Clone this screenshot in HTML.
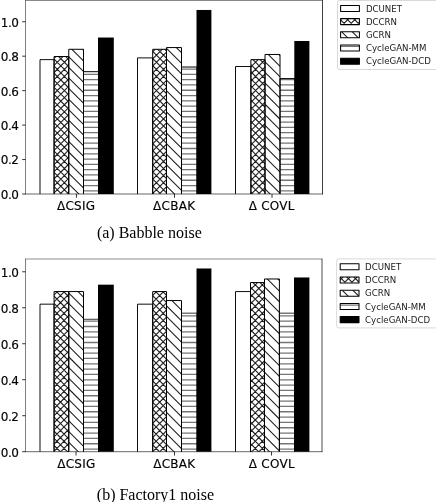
<!DOCTYPE html>
<html lang="en"><head><meta charset="utf-8"><title>Bar charts</title>
<style>html,body{margin:0;padding:0;background:#fff}body{width:436px;height:502px;overflow:hidden}svg{display:block}.t{font-family:"DejaVu Sans","Liberation Sans",sans-serif;fill:#000}.t{stroke:#000;stroke-width:0.15px}.lg{stroke:none;fill:#1a1a1a}.yl{letter-spacing:-0.55px}.xl{letter-spacing:0.25px}.c{font-family:"Liberation Serif",serif;fill:#000}</style></head><body>
<svg width="436" height="502" viewBox="0 0 436 502">
<rect width="436" height="502" fill="#fff"/>
<defs>
<clipPath id="c0_1"><rect x="54.07" y="56.53" width="14.68" height="137.47"/><rect x="152.7" y="49.29" width="13.8" height="144.71"/><rect x="250.9" y="59.63" width="14.1" height="134.37"/></clipPath>
<clipPath id="l0_1"><rect x="340.6" y="18.6" width="18.8" height="6"/></clipPath>
<clipPath id="c0_2"><rect x="68.75" y="49.29" width="14.75" height="144.71"/><rect x="166.5" y="47.57" width="15" height="146.43"/><rect x="265" y="54.46" width="15" height="139.54"/></clipPath>
<clipPath id="l0_2"><rect x="340.6" y="31.8" width="18.8" height="6"/></clipPath>
<clipPath id="c0_3"><rect x="83.5" y="71.69" width="15" height="122.31"/><rect x="181.5" y="67.03" width="15.5" height="126.97"/><rect x="280" y="78.58" width="14.8" height="115.42"/></clipPath>
<clipPath id="l0_3"><rect x="340.6" y="45" width="18.8" height="6"/></clipPath>
</defs>
<path clip-path="url(#c0_1)" d="M36 -284.96L312 -8.84M36 -277.87L312 -1.76M36 -270.79L312 5.33M36 -263.7L312 12.41M36 -256.62L312 19.5M36 -249.53L312 26.58M36 -242.45L312 33.67M36 -235.36L312 40.75M36 -228.28L312 47.84M36 -221.19L312 54.92M36 -214.11L312 62.01M36 -207.02L312 69.09M36 -199.94L312 76.18M36 -192.85L312 83.26M36 -185.77L312 90.35M36 -178.68L312 97.43M36 -171.6L312 104.52M36 -164.51L312 111.6M36 -157.43L312 118.69M36 -150.34L312 125.77M36 -143.26L312 132.86M36 -136.17L312 139.94M36 -129.09L312 147.03M36 -122L312 154.11M36 -114.92L312 161.2M36 -107.83L312 168.28M36 -100.75L312 175.37M36 -93.66L312 182.45M36 -86.58L312 189.54M36 -79.49L312 196.62M36 -72.41L312 203.71M36 -65.32L312 210.79M36 -58.24L312 217.88M36 -51.15L312 224.96M36 -44.07L312 232.05M36 -36.98L312 239.13M36 -29.9L312 246.22M36 -22.81L312 253.3M36 -15.73L312 260.39M36 -8.64L312 267.47M36 -1.56L312 274.56M36 5.53L312 281.64M36 12.61L312 288.73M36 19.7L312 295.81M36 26.78L312 302.9M36 33.87L312 309.98M36 40.95L312 317.07M36 48.04L312 324.15M36 55.12L312 331.24M36 62.21L312 338.32M36 69.29L312 345.41M36 76.38L312 352.49M36 83.46L312 359.58M36 90.55L312 366.66M36 97.63L312 373.75M36 104.72L312 380.83M36 111.8L312 387.92M36 118.89L312 395M36 125.97L312 402.09M36 133.06L312 409.17M36 140.14L312 416.26M36 147.23L312 423.34M36 154.31L312 430.43M36 161.4L312 437.51M36 168.48L312 444.6M36 175.57L312 451.68M36 182.65L312 458.77M36 189.74L312 465.85M36 196.82L312 472.94M36 203.91L312 480.02M36 -8.58L312 -284.69M36 -1.49L312 -277.61M36 5.59L312 -270.52M36 12.68L312 -263.44M36 19.76L312 -256.35M36 26.85L312 -249.27M36 33.93L312 -242.18M36 41.02L312 -235.1M36 48.1L312 -228.01M36 55.19L312 -220.93M36 62.27L312 -213.84M36 69.36L312 -206.76M36 76.44L312 -199.67M36 83.53L312 -192.59M36 90.61L312 -185.5M36 97.7L312 -178.42M36 104.78L312 -171.33M36 111.87L312 -164.25M36 118.95L312 -157.16M36 126.04L312 -150.08M36 133.12L312 -142.99M36 140.21L312 -135.91M36 147.29L312 -128.82M36 154.38L312 -121.74M36 161.46L312 -114.65M36 168.55L312 -107.57M36 175.63L312 -100.48M36 182.72L312 -93.4M36 189.8L312 -86.31M36 196.89L312 -79.23M36 203.97L312 -72.14M36 211.06L312 -65.06M36 218.14L312 -57.97M36 225.23L312 -50.89M36 232.31L312 -43.8M36 239.4L312 -36.72M36 246.48L312 -29.63M36 253.57L312 -22.55M36 260.65L312 -15.46M36 267.74L312 -8.38M36 274.82L312 -1.29M36 281.91L312 5.79M36 288.99L312 12.88M36 296.08L312 19.96M36 303.16L312 27.05M36 310.25L312 34.13M36 317.33L312 41.22M36 324.42L312 48.3M36 331.5L312 55.39M36 338.59L312 62.47M36 345.67L312 69.56M36 352.76L312 76.64M36 359.84L312 83.73M36 366.93L312 90.81M36 374.01L312 97.9M36 381.1L312 104.98M36 388.18L312 112.07M36 395.27L312 119.15M36 402.35L312 126.24M36 409.44L312 133.32M36 416.52L312 140.41M36 423.61L312 147.49M36 430.69L312 154.58M36 437.78L312 161.66M36 444.86L312 168.75M36 451.95L312 175.83M36 459.03L312 182.92M36 466.12L312 190M36 473.2L312 197.09M36 480.29L312 204.17" fill="none" stroke="#202020" stroke-width="1.12"/>
<path clip-path="url(#c0_2)" d="M36 -293.61L312 -18.44M36 -283.02L312 -7.85M36 -272.43L312 2.74M36 -261.84L312 13.34M36 -251.24L312 23.93M36 -240.65L312 34.52M36 -230.06L312 45.11M36 -219.47L312 55.7M36 -208.88L312 66.3M36 -198.28L312 76.89M36 -187.69L312 87.48M36 -177.1L312 98.07M36 -166.51L312 108.66M36 -155.92L312 119.26M36 -145.32L312 129.85M36 -134.73L312 140.44M36 -124.14L312 151.03M36 -113.55L312 161.62M36 -102.96L312 172.22M36 -92.36L312 182.81M36 -81.77L312 193.4M36 -71.18L312 203.99M36 -60.59L312 214.58M36 -50L312 225.18M36 -39.4L312 235.77M36 -28.81L312 246.36M36 -18.22L312 256.95M36 -7.63L312 267.54M36 2.96L312 278.14M36 13.56L312 288.73M36 24.15L312 299.32M36 34.74L312 309.91M36 45.33L312 320.5M36 55.92L312 331.1M36 66.52L312 341.69M36 77.11L312 352.28M36 87.7L312 362.87M36 98.29L312 373.46M36 108.88L312 384.06M36 119.48L312 394.65M36 130.07L312 405.24M36 140.66L312 415.83M36 151.25L312 426.42M36 161.84L312 437.02M36 172.44L312 447.61M36 183.03L312 458.2M36 193.62L312 468.79M36 204.21L312 479.38M36 214.8L312 489.98" fill="none" stroke="#202020" stroke-width="1.08"/>
<path clip-path="url(#c0_3)" d="M36 -5.03H312M36 0.27H312M36 5.56H312M36 10.85H312M36 16.15H312M36 21.44H312M36 26.74H312M36 32.03H312M36 37.32H312M36 42.62H312M36 47.91H312M36 53.21H312M36 58.5H312M36 63.79H312M36 69.09H312M36 74.38H312M36 79.68H312M36 84.97H312M36 90.26H312M36 95.56H312M36 100.85H312M36 106.15H312M36 111.44H312M36 116.73H312M36 122.03H312M36 127.32H312M36 132.62H312M36 137.91H312M36 143.2H312M36 148.5H312M36 153.79H312M36 159.09H312M36 164.38H312M36 169.67H312M36 174.97H312M36 180.26H312M36 185.56H312M36 190.85H312M36 196.14H312" fill="none" stroke="#757575" stroke-width="1.3"/>
<path clip-path="url(#l0_1)" d="M338 -18.26L362 5.75M338 -11.17L362 12.84M338 -4.09L362 19.92M338 3L362 27.01M338 10.08L362 34.09M338 17.17L362 41.18M338 24.25L362 48.26M338 31.34L362 55.35M338 38.42L362 62.43M338 45.51L362 69.52M338 52.59L362 76.6M338 59.68L362 83.69M338 8.12L362 -15.89M338 15.21L362 -8.8M338 22.29L362 -1.72M338 29.38L362 5.37M338 36.46L362 12.45M338 43.55L362 19.54M338 50.63L362 26.62M338 57.72L362 33.71M338 64.8L362 40.79M338 71.89L362 47.88M338 78.97L362 54.96M338 86.06L362 62.05" fill="none" stroke="#202020" stroke-width="1.12"/>
<path clip-path="url(#l0_2)" d="M338 -24.79L362 -0.86M338 -14.2L362 9.73M338 -3.61L362 20.32M338 6.98L362 30.91M338 17.58L362 41.5M338 28.17L362 52.1M338 38.76L362 62.69M338 49.35L362 73.28M338 59.94L362 83.87M338 70.54L362 94.46" fill="none" stroke="#202020" stroke-width="1.08"/>
<path clip-path="url(#l0_3)" d="M338 14.55H362M338 19.84H362M338 25.14H362M338 30.43H362M338 35.72H362M338 41.02H362M338 46.31H362M338 51.61H362M338 56.9H362" fill="none" stroke="#757575" stroke-width="1.3"/>
<path d="M40 194V59.63H54.07V194" fill="none" stroke="#000" stroke-width="0.95"/>
<path d="M137.5 194V57.9H152.7V194" fill="none" stroke="#000" stroke-width="0.95"/>
<path d="M235.5 194V66.52H250.9V194" fill="none" stroke="#000" stroke-width="0.95"/>
<path d="M54.07 194V56.53H68.75V194" fill="none" stroke="#000" stroke-width="1"/>
<path d="M152.7 194V49.29H166.5V194" fill="none" stroke="#000" stroke-width="1"/>
<path d="M250.9 194V59.63H265V194" fill="none" stroke="#000" stroke-width="1"/>
<path d="M68.75 194V49.29H83.5V194" fill="none" stroke="#000" stroke-width="1"/>
<path d="M166.5 194V47.57H181.5V194" fill="none" stroke="#000" stroke-width="1"/>
<path d="M265 194V54.46H280V194" fill="none" stroke="#000" stroke-width="1"/>
<path d="M83.5 194V71.69H98.5V194" fill="none" stroke="#000" stroke-width="1"/>
<path d="M181.5 194V67.03H197V194" fill="none" stroke="#000" stroke-width="1"/>
<path d="M280 194V78.58H294.8V194" fill="none" stroke="#000" stroke-width="1"/>
<rect x="98" y="37.53" width="15.8" height="156.47" fill="#000"/>
<rect x="196.5" y="9.97" width="14.9" height="184.03" fill="#000"/>
<rect x="294.3" y="40.98" width="15.1" height="153.02" fill="#000"/>
<path d="M25.5 0.2V194.3" fill="none" stroke="#000" stroke-width="0.5"/>
<path d="M322.5 0.2V194.3" fill="none" stroke="#000" stroke-width="0.75"/>
<path d="M25.25 0.45H322.8" fill="none" stroke="#000" stroke-width="0.5"/>
<path d="M25.25 194H322.8" fill="none" stroke="#000" stroke-width="0.6"/>
<line x1="22.2" y1="194" x2="25.5" y2="194" stroke="#000" stroke-width="0.8"/>
<text class="t yl" x="0.85" y="198.9" font-size="12">0.0</text>
<line x1="22.2" y1="159.55" x2="25.5" y2="159.55" stroke="#000" stroke-width="0.8"/>
<text class="t yl" x="0.85" y="164.45" font-size="12">0.2</text>
<line x1="22.2" y1="125.09" x2="25.5" y2="125.09" stroke="#000" stroke-width="0.8"/>
<text class="t yl" x="0.85" y="129.99" font-size="12">0.4</text>
<line x1="22.2" y1="90.64" x2="25.5" y2="90.64" stroke="#000" stroke-width="0.8"/>
<text class="t yl" x="0.85" y="95.54" font-size="12">0.6</text>
<line x1="22.2" y1="56.18" x2="25.5" y2="56.18" stroke="#000" stroke-width="0.8"/>
<text class="t yl" x="0.85" y="61.08" font-size="12">0.8</text>
<line x1="22.2" y1="21.73" x2="25.5" y2="21.73" stroke="#000" stroke-width="0.8"/>
<text class="t yl" x="0.85" y="26.63" font-size="12">1.0</text>
<line x1="76.45" y1="194" x2="76.45" y2="197.8" stroke="#000" stroke-width="0.8"/>
<text class="t xl" x="76.15" y="209.5" font-size="12" text-anchor="middle">ΔCSIG</text>
<line x1="174.5" y1="194" x2="174.5" y2="197.8" stroke="#000" stroke-width="0.8"/>
<text class="t xl" x="174.2" y="209.5" font-size="12" text-anchor="middle">ΔCBAK</text>
<line x1="272" y1="194" x2="272" y2="197.8" stroke="#000" stroke-width="0.8"/>
<text class="t xl" x="271.7" y="209.5" font-size="12" text-anchor="middle">Δ COVL</text>
<rect x="337.5" y="0.5" width="110" height="69" rx="1.8" fill="none" stroke="#d2d2d2" stroke-width="0.85"/>
<rect x="340.6" y="5.4" width="18.8" height="6" fill="none" stroke="#000" stroke-width="1.05" stroke-linejoin="round"/>
<text class="t lg" x="365.9" y="11.5" font-size="8.65">DCUNET</text>
<rect x="340.6" y="18.6" width="18.8" height="6" fill="none" stroke="#000" stroke-width="1.05" stroke-linejoin="round"/>
<text class="t lg" x="365.9" y="24.7" font-size="8.65">DCCRN</text>
<rect x="340.6" y="31.8" width="18.8" height="6" fill="none" stroke="#000" stroke-width="1.05" stroke-linejoin="round"/>
<text class="t lg" x="365.9" y="37.9" font-size="8.65">GCRN</text>
<rect x="340.6" y="45" width="18.8" height="6" fill="none" stroke="#000" stroke-width="1.05" stroke-linejoin="round"/>
<text class="t lg" x="365.9" y="51.1" font-size="8.65">CycleGAN-MM</text>
<rect x="340.6" y="58.2" width="18.8" height="6" fill="#000" stroke="#000" stroke-width="1.05" stroke-linejoin="round"/>
<text class="t lg" x="365.9" y="64.3" font-size="8.65">CycleGAN-DCD</text>
<text class="c" x="96.9" y="238.4" font-size="16">(a) Babble noise</text>
<defs>
<clipPath id="c1_1"><rect x="54.07" y="291.57" width="14.68" height="160.13"/><rect x="152.7" y="291.57" width="13.8" height="160.13"/><rect x="250.5" y="282.57" width="14" height="169.13"/></clipPath>
<clipPath id="l1_1"><rect x="340.2" y="277" width="18.8" height="6"/></clipPath>
<clipPath id="c1_2"><rect x="68.75" y="291.57" width="14.75" height="160.13"/><rect x="166.5" y="300.56" width="15" height="151.14"/><rect x="264.5" y="278.97" width="14.9" height="172.73"/></clipPath>
<clipPath id="l1_2"><rect x="340.2" y="290.2" width="18.8" height="6"/></clipPath>
<clipPath id="c1_3"><rect x="83.5" y="319.27" width="15" height="132.43"/><rect x="181.5" y="313.16" width="15.5" height="138.54"/><rect x="279.4" y="313.16" width="15.1" height="138.54"/></clipPath>
<clipPath id="l1_3"><rect x="340.2" y="303.4" width="18.8" height="6"/></clipPath>
</defs>
<path clip-path="url(#c1_1)" d="M36 -27.49L312 249.44M36 -20.39L312 256.55M36 -13.28L312 263.65M36 -6.18L312 270.76M36 0.93L312 277.86M36 8.04L312 284.97M36 15.14L312 292.08M36 22.25L312 299.18M36 29.35L312 306.29M36 36.46L312 313.39M36 43.57L312 320.5M36 50.67L312 327.61M36 57.78L312 334.71M36 64.88L312 341.82M36 71.99L312 348.92M36 79.1L312 356.03M36 86.2L312 363.14M36 93.31L312 370.24M36 100.41L312 377.35M36 107.52L312 384.45M36 114.63L312 391.56M36 121.73L312 398.67M36 128.84L312 405.77M36 135.94L312 412.88M36 143.05L312 419.98M36 150.16L312 427.09M36 157.26L312 434.2M36 164.37L312 441.3M36 171.47L312 448.41M36 178.58L312 455.51M36 185.69L312 462.62M36 192.79L312 469.73M36 199.9L312 476.83M36 207L312 483.94M36 214.11L312 491.04M36 221.22L312 498.15M36 228.32L312 505.26M36 235.43L312 512.36M36 242.53L312 519.47M36 249.64L312 526.57M36 256.75L312 533.68M36 263.85L312 540.79M36 270.96L312 547.89M36 278.06L312 555M36 285.17L312 562.1M36 292.28L312 569.21M36 299.38L312 576.32M36 306.49L312 583.42M36 313.59L312 590.53M36 320.7L312 597.63M36 327.81L312 604.74M36 334.91L312 611.85M36 342.02L312 618.95M36 349.12L312 626.06M36 356.23L312 633.16M36 363.34L312 640.27M36 370.44L312 647.38M36 377.55L312 654.48M36 384.65L312 661.59M36 391.76L312 668.69M36 398.87L312 675.8M36 405.97L312 682.91M36 413.08L312 690.01M36 420.18L312 697.12M36 427.29L312 704.22M36 434.4L312 711.33M36 441.5L312 718.44M36 448.61L312 725.54M36 455.71L312 732.65M36 462.82L312 739.75M36 249.04L312 -27.89M36 256.15L312 -20.78M36 263.26L312 -13.68M36 270.36L312 -6.57M36 277.47L312 0.53M36 284.57L312 7.64M36 291.68L312 14.75M36 298.79L312 21.85M36 305.89L312 28.96M36 313L312 36.06M36 320.1L312 43.17M36 327.21L312 50.28M36 334.32L312 57.38M36 341.42L312 64.49M36 348.53L312 71.59M36 355.63L312 78.7M36 362.74L312 85.81M36 369.85L312 92.91M36 376.95L312 100.02M36 384.06L312 107.12M36 391.16L312 114.23M36 398.27L312 121.34M36 405.38L312 128.44M36 412.48L312 135.55M36 419.59L312 142.65M36 426.69L312 149.76M36 433.8L312 156.87M36 440.91L312 163.97M36 448.01L312 171.08M36 455.12L312 178.18M36 462.22L312 185.29M36 469.33L312 192.4M36 476.44L312 199.5M36 483.54L312 206.61M36 490.65L312 213.71M36 497.75L312 220.82M36 504.86L312 227.93M36 511.97L312 235.03M36 519.07L312 242.14M36 526.18L312 249.24M36 533.28L312 256.35M36 540.39L312 263.46M36 547.5L312 270.56M36 554.6L312 277.67M36 561.71L312 284.77M36 568.81L312 291.88M36 575.92L312 298.99M36 583.03L312 306.09M36 590.13L312 313.2M36 597.24L312 320.3M36 604.34L312 327.41M36 611.45L312 334.52M36 618.56L312 341.62M36 625.66L312 348.73M36 632.77L312 355.83M36 639.87L312 362.94M36 646.98L312 370.05M36 654.09L312 377.15M36 661.19L312 384.26M36 668.3L312 391.36M36 675.4L312 398.47M36 682.51L312 405.58M36 689.62L312 412.68M36 696.72L312 419.79M36 703.83L312 426.89M36 710.93L312 434M36 718.04L312 441.11M36 725.15L312 448.21M36 732.25L312 455.32M36 739.36L312 462.42" fill="none" stroke="#202020" stroke-width="1.12"/>
<path clip-path="url(#c1_2)" d="M36 -38.34L312 238.57M36 -27.68L312 249.23M36 -17.02L312 259.89M36 -6.37L312 270.54M36 4.29L312 281.2M36 14.95L312 291.86M36 25.61L312 302.52M36 36.27L312 313.18M36 46.92L312 323.83M36 57.58L312 334.49M36 68.24L312 345.15M36 78.9L312 355.81M36 89.56L312 366.47M36 100.21L312 377.12M36 110.87L312 387.78M36 121.53L312 398.44M36 132.19L312 409.1M36 142.85L312 419.76M36 153.5L312 430.41M36 164.16L312 441.07M36 174.82L312 451.73M36 185.48L312 462.39M36 196.14L312 473.05M36 206.79L312 483.7M36 217.45L312 494.36M36 228.11L312 505.02M36 238.77L312 515.68M36 249.43L312 526.34M36 260.08L312 536.99M36 270.74L312 547.65M36 281.4L312 558.31M36 292.06L312 568.97M36 302.72L312 579.63M36 313.37L312 590.28M36 324.03L312 600.94M36 334.69L312 611.6M36 345.35L312 622.26M36 356.01L312 632.92M36 366.66L312 643.57M36 377.32L312 654.23M36 387.98L312 664.89M36 398.64L312 675.55M36 409.3L312 686.21M36 419.95L312 696.86M36 430.61L312 707.52M36 441.27L312 718.18M36 451.93L312 728.84M36 462.59L312 739.5M36 473.24L312 750.15" fill="none" stroke="#202020" stroke-width="1.08"/>
<path clip-path="url(#c1_3)" d="M36 257.22H312M36 262.55H312M36 267.87H312M36 273.2H312M36 278.53H312M36 283.86H312M36 289.19H312M36 294.52H312M36 299.85H312M36 305.18H312M36 310.51H312M36 315.84H312M36 321.16H312M36 326.49H312M36 331.82H312M36 337.15H312M36 342.48H312M36 347.81H312M36 353.14H312M36 358.47H312M36 363.8H312M36 369.12H312M36 374.45H312M36 379.78H312M36 385.11H312M36 390.44H312M36 395.77H312M36 401.1H312M36 406.43H312M36 411.76H312M36 417.09H312M36 422.42H312M36 427.74H312M36 433.07H312M36 438.4H312M36 443.73H312M36 449.06H312M36 454.39H312" fill="none" stroke="#757575" stroke-width="1.3"/>
<path clip-path="url(#l1_1)" d="M338 239.74L362 263.83M338 246.85L362 270.93M338 253.96L362 278.04M338 261.06L362 285.14M338 268.17L362 292.25M338 275.27L362 299.36M338 282.38L362 306.46M338 289.49L362 313.57M338 296.59L362 320.67M338 303.7L362 327.78M338 310.8L362 334.89M338 317.91L362 341.99M338 325.02L362 349.1M338 267.75L362 243.66M338 274.85L362 250.77M338 281.96L362 257.88M338 289.06L362 264.98M338 296.17L362 272.09M338 303.28L362 279.19M338 310.38L362 286.3M338 317.49L362 293.41M338 324.59L362 300.51M338 331.7L362 307.62M338 338.81L362 314.72M338 345.91L362 321.83" fill="none" stroke="#202020" stroke-width="1.12"/>
<path clip-path="url(#l1_2)" d="M338 232.68L362 256.76M338 243.34L362 267.42M338 254L362 278.08M338 264.66L362 288.74M338 275.31L362 299.39M338 285.97L362 310.05M338 296.63L362 320.71M338 307.29L362 331.37M338 317.95L362 342.03M338 328.6L362 352.68" fill="none" stroke="#202020" stroke-width="1.08"/>
<path clip-path="url(#l1_3)" d="M338 273.2H362M338 278.53H362M338 283.86H362M338 289.19H362M338 294.52H362M338 299.85H362M338 305.18H362M338 310.51H362M338 315.84H362" fill="none" stroke="#757575" stroke-width="1.3"/>
<path d="M40 451.7V304.16H54.07V451.7" fill="none" stroke="#000" stroke-width="0.95"/>
<path d="M137.5 451.7V304.16H152.7V451.7" fill="none" stroke="#000" stroke-width="0.95"/>
<path d="M235.5 451.7V291.57H250.5V451.7" fill="none" stroke="#000" stroke-width="0.95"/>
<path d="M54.07 451.7V291.57H68.75V451.7" fill="none" stroke="#000" stroke-width="1"/>
<path d="M152.7 451.7V291.57H166.5V451.7" fill="none" stroke="#000" stroke-width="1"/>
<path d="M250.5 451.7V282.57H264.5V451.7" fill="none" stroke="#000" stroke-width="1"/>
<path d="M68.75 451.7V291.57H83.5V451.7" fill="none" stroke="#000" stroke-width="1"/>
<path d="M166.5 451.7V300.56H181.5V451.7" fill="none" stroke="#000" stroke-width="1"/>
<path d="M264.5 451.7V278.97H279.4V451.7" fill="none" stroke="#000" stroke-width="1"/>
<path d="M83.5 451.7V319.27H98.5V451.7" fill="none" stroke="#000" stroke-width="0.8"/>
<path d="M181.5 451.7V313.16H197V451.7" fill="none" stroke="#000" stroke-width="0.8"/>
<path d="M279.4 451.7V313.16H294.5V451.7" fill="none" stroke="#000" stroke-width="0.8"/>
<rect x="98" y="284.67" width="15.8" height="167.03" fill="#000"/>
<rect x="196.5" y="268.48" width="14.9" height="183.22" fill="#000"/>
<rect x="294" y="277.47" width="15.4" height="174.23" fill="#000"/>
<path d="M25.5 258.75V452" fill="none" stroke="#000" stroke-width="0.5"/>
<path d="M322 258.75V452" fill="none" stroke="#000" stroke-width="0.7"/>
<path d="M25.25 259H322.3" fill="none" stroke="#000" stroke-width="0.45"/>
<path d="M25.25 451.7H322.3" fill="none" stroke="#000" stroke-width="0.6"/>
<line x1="22.2" y1="451.7" x2="25.5" y2="451.7" stroke="#000" stroke-width="0.8"/>
<text class="t yl" x="0.85" y="456.6" font-size="12">0.0</text>
<line x1="22.2" y1="415.71" x2="25.5" y2="415.71" stroke="#000" stroke-width="0.8"/>
<text class="t yl" x="0.85" y="420.61" font-size="12">0.2</text>
<line x1="22.2" y1="379.73" x2="25.5" y2="379.73" stroke="#000" stroke-width="0.8"/>
<text class="t yl" x="0.85" y="384.63" font-size="12">0.4</text>
<line x1="22.2" y1="343.74" x2="25.5" y2="343.74" stroke="#000" stroke-width="0.8"/>
<text class="t yl" x="0.85" y="348.64" font-size="12">0.6</text>
<line x1="22.2" y1="307.76" x2="25.5" y2="307.76" stroke="#000" stroke-width="0.8"/>
<text class="t yl" x="0.85" y="312.66" font-size="12">0.8</text>
<line x1="22.2" y1="271.77" x2="25.5" y2="271.77" stroke="#000" stroke-width="0.8"/>
<text class="t yl" x="0.85" y="276.67" font-size="12">1.0</text>
<line x1="76" y1="451.7" x2="76" y2="455.5" stroke="#000" stroke-width="0.8"/>
<text class="t xl" x="76.35" y="467.7" font-size="12" text-anchor="middle">ΔCSIG</text>
<line x1="174.5" y1="451.7" x2="174.5" y2="455.5" stroke="#000" stroke-width="0.8"/>
<text class="t xl" x="174.3" y="467.7" font-size="12" text-anchor="middle">ΔCBAK</text>
<line x1="271.5" y1="451.7" x2="271.5" y2="455.5" stroke="#000" stroke-width="0.8"/>
<text class="t xl" x="271.8" y="467.7" font-size="12" text-anchor="middle">Δ COVL</text>
<rect x="336.7" y="258.9" width="110" height="69" rx="1.8" fill="none" stroke="#d2d2d2" stroke-width="0.85"/>
<rect x="340.2" y="263.8" width="18.8" height="6" fill="none" stroke="#000" stroke-width="1.05" stroke-linejoin="round"/>
<text class="t lg" x="365.1" y="269.9" font-size="8.65">DCUNET</text>
<rect x="340.2" y="277" width="18.8" height="6" fill="none" stroke="#000" stroke-width="1.05" stroke-linejoin="round"/>
<text class="t lg" x="365.1" y="283.1" font-size="8.65">DCCRN</text>
<rect x="340.2" y="290.2" width="18.8" height="6" fill="none" stroke="#000" stroke-width="1.05" stroke-linejoin="round"/>
<text class="t lg" x="365.1" y="296.3" font-size="8.65">GCRN</text>
<rect x="340.2" y="303.4" width="18.8" height="6" fill="none" stroke="#000" stroke-width="1.05" stroke-linejoin="round"/>
<text class="t lg" x="365.1" y="309.5" font-size="8.65">CycleGAN-MM</text>
<rect x="340.2" y="316.6" width="18.8" height="6" fill="#000" stroke="#000" stroke-width="1.05" stroke-linejoin="round"/>
<text class="t lg" x="365.1" y="322.7" font-size="8.65">CycleGAN-DCD</text>
<text class="c" x="96.8" y="499.5" font-size="16">(b) Factory1 noise</text>
</svg></body></html>
